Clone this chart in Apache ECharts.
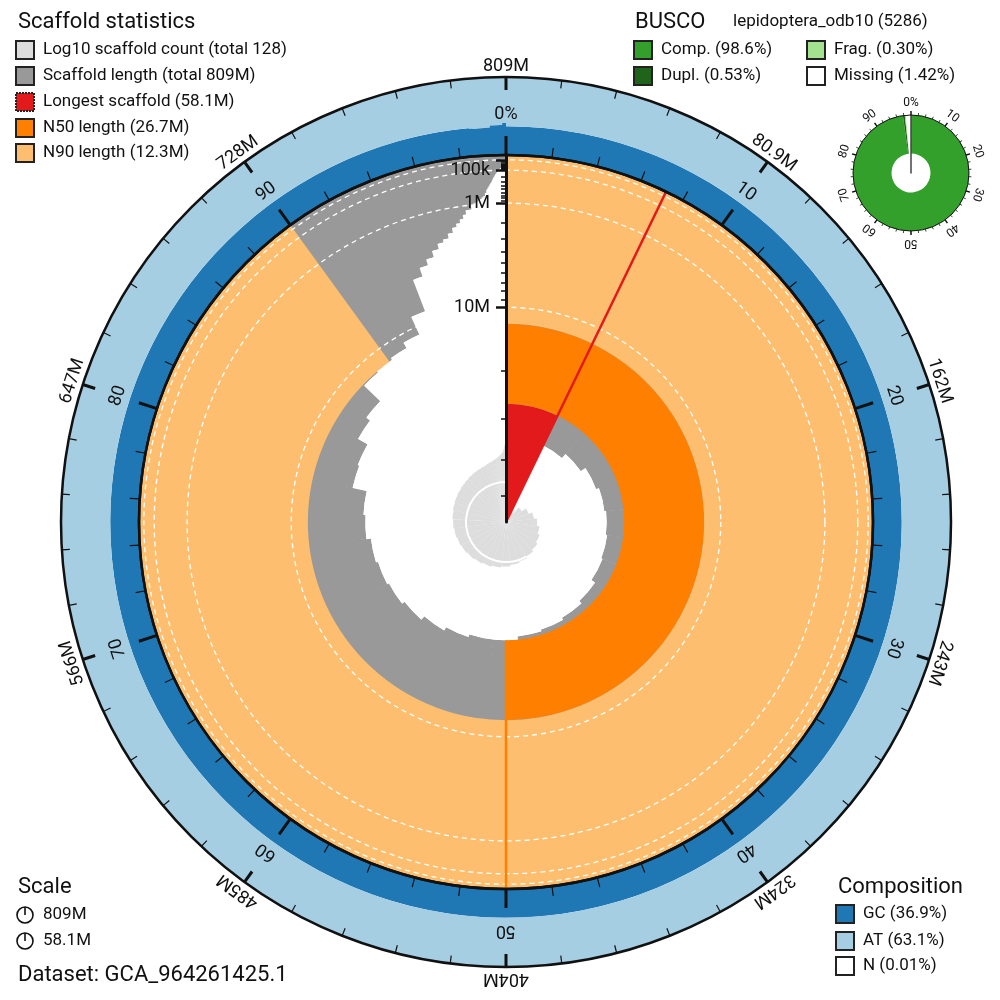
<!DOCTYPE html>
<html>
<head>
<meta charset="utf-8">
<title>Snail plot</title>
<script src="https://cdn.jsdelivr.net/npm/echarts@6/dist/echarts.min.js"></script>
<style>
  html, body { margin: 0; background: #fff; }
  #chart { width: 1000px; height: 1000px; }
</style>
</head>
<body>
<div id="chart"></div>
<script>
// scaffold lengths in Mb, longest first
var scaffoldLengths = [
  58.1, 34.3, 33.0, 31.7, 31.0, 30.6, 30.3, 30.0, 29.0, 28.3,
  27.8, 27.4, 26.7, 26.7, 26.1, 25.3, 24.4, 23.8, 23.4, 23.0,
  22.1, 21.7, 19.0, 18.7, 16.8, 16.0, 12.5, 12.3, 12.0, 11.1,
  8.6, 5.0, 4.2, 3.7, 3.2, 2.8, 2.6, 2.3, 2.0, 1.8,
  1.6, 1.4, 1.2, 1.2, 1.0, 0.95, 0.9, 0.85, 0.8, 0.75,
  0.7, 0.6, 0.5, 0.45, 0.4, 0.36, 0.33, 0.3, 0.27, 0.24,
  0.22, 0.2, 0.19, 0.17, 0.16, 0.15, 0.14, 0.135, 0.13, 0.125,
  0.12, 0.115, 0.11, 0.105, 0.097, 0.094, 0.091, 0.088, 0.085, 0.082,
  0.080, 0.078, 0.076, 0.074, 0.072, 0.070, 0.068, 0.066, 0.064, 0.062,
  0.060, 0.058, 0.056, 0.055, 0.054, 0.053, 0.052, 0.051, 0.050, 0.049,
  0.048, 0.047, 0.046, 0.045, 0.044, 0.043, 0.042, 0.041, 0.040, 0.039,
  0.038, 0.037, 0.036, 0.035, 0.034, 0.033, 0.032, 0.031, 0.030, 0.029,
  0.028, 0.027, 0.026, 0.025, 0.024, 0.023, 0.022, 0.021
];

// radial length axis (Mb)
var lengthTickLabels = ['100k', '1M', '10M'];
var lengthLabelValues = [0.1, 1, 10];
var lengthMajorTicks = [0.01, 0.1, 1, 10];
var lengthMinorTicks = [0.02, 0.03, 0.04, 0.05, 0.06, 0.07, 0.08, 0.09,
  0.2, 0.3, 0.4, 0.5, 0.6, 0.7, 0.8, 0.9, 2, 3, 4, 5, 6, 7, 8, 9, 20, 30, 40, 50];
var lengthGridLines = [0.01, 0.1, 1, 10];
var percentTicks = [0, 10, 20, 30, 40, 50, 60, 70, 80, 90];
var countScaleLines = [10, 100];

// base composition along the assembly (start %, GC %)
var gcStart = [0, 98.5, 99.2, 99.7];
var gcPercent = [36.9, 35.5, 38.5, 41.0];
var nPercent = 0.01;

var buscoNames = ['Comp.', 'Dupl.', 'Frag.', 'Missing'];
var buscoValues = [98.6, 0.53, 0.30, 1.42];
var buscoLineage = 'lepidoptera_odb10';
var buscoTotal = 5286;
var datasetName = 'GCA_964261425.1';

var chart = echarts.init(document.getElementById('chart'));

var CX = 506, CY = 522, R_IN = 367, R_OUT = 445;
var FONT = 'Roboto, "Noto Sans", sans-serif';
var INK = '#111';

var totalLength = scaffoldLengths.reduce(function (a, b) { return a + b; }, 0);
var starts = [], ends = [], acc = 0;
scaffoldLengths.forEach(function (l) {
  starts.push(acc / totalLength * 100);
  acc += l;
  ends.push(acc / totalLength * 100);
});
function nx(frac) {
  var c = 0;
  for (var i = 0; i < scaffoldLengths.length; i++) {
    c += scaffoldLengths[i];
    if (c >= totalLength * frac) return scaffoldLengths[i];
  }
}
var longest = scaffoldLengths[0], n50 = nx(0.5), n90 = nx(0.9);
var sq = Math.sqrt, sqMax = sq(longest);
var longestPct = longest / totalLength * 100;

function fmtMb(v) { return Number(v.toPrecision(3)) + 'M'; }

// small overlap between neighbouring wedges hides anti-alias seams
var OV = 0.06;
var grayRows = scaffoldLengths.map(function (l, i) { return [starts[i], Math.min(ends[i] + OV, 100), sq(l), 0]; });
var maskRows = scaffoldLengths.map(function (l, i) { return [starts[i], Math.min(ends[i] + OV, 100), sqMax, sq(l)]; });
var countRows = scaffoldLengths.map(function (l, i) { return [starts[i], Math.min(ends[i] + OV, 100), 0, Math.log10(i + 1)]; });
var countArcRows = countScaleLines.filter(function (c) { return c < scaffoldLengths.length; })
  .map(function (c) { return [starts[c], 100, Math.log10(c)]; });

var gcRows = [], atRows = [], nRows = [];
gcStart.forEach(function (s, i) {
  var e = i + 1 < gcStart.length ? gcStart[i + 1] + 0.15 : 100;
  gcRows.push([s, e, 0, gcPercent[i]]);
  atRows.push([s, e, gcPercent[i], 100 - nPercent]);
  nRows.push([s, e, 100 - nPercent, 100]);
});

var buscoDrawn = [buscoValues[0] - buscoValues[1], buscoValues[1], buscoValues[2], buscoValues[3]];
var buscoSum = buscoDrawn.reduce(function (a, b) { return a + b; }, 0);
var buscoColors = ['#33a02c', '#20641c', '#a3e28f', '#ffffff'];
var buscoRows = [], bacc = 0;
buscoDrawn.forEach(function (v) {
  buscoRows.push([bacc / buscoSum * 100, (bacc + v) / buscoSum * 100, 19.5, 58]);
  bacc += v;
});

function sectorSeries(polarIndex, rows, refVal, colorFn, z) {
  return {
    type: 'custom', coordinateSystem: 'polar', polarIndex: polarIndex,
    silent: true, z: z || 2, data: rows,
    renderItem: function (params, api) {
      var cs = params.coordSys, cx = cs.cx, cy = cs.cy;
      var a0 = api.value(0), a1 = api.value(1);
      var pa = api.coord([api.value(2), a0]), pb = api.coord([api.value(3), a0]);
      var ra = Math.hypot(pa[0] - cx, pa[1] - cy), rb = Math.hypot(pb[0] - cx, pb[1] - cy);
      var q0 = api.coord([refVal, a0]), q1 = api.coord([refVal, a1]);
      var s = Math.atan2(q0[1] - cy, q0[0] - cx), e = Math.atan2(q1[1] - cy, q1[0] - cx);
      if (e <= s + 1e-9) e += Math.PI * 2;
      return {
        type: 'sector',
        shape: { cx: cx, cy: cy, r0: Math.min(ra, rb), r: Math.max(ra, rb), startAngle: s, endAngle: e, clockwise: true },
        style: { fill: colorFn(params.dataIndex) }
      };
    }
  };
}
function solid(c) { return function () { return c; }; }

function lineSeries(rows, color) {
  return {
    type: 'custom', coordinateSystem: 'polar', polarIndex: 0, silent: true, z: 3, data: rows,
    renderItem: function (params, api) {
      var p = api.coord([api.value(0), api.value(2)]), q = api.coord([api.value(1), api.value(2)]);
      return { type: 'line', shape: { x1: p[0], y1: p[1], x2: q[0], y2: q[1] }, style: { stroke: color, lineWidth: 2.5 } };
    }
  };
}

function labelSeries(polarIndex, rows, textFn, fontSize) {
  return {
    type: 'custom', coordinateSystem: 'polar', polarIndex: polarIndex, silent: true, z: 5, data: rows,
    renderItem: function (params, api) {
      var p = api.coord([api.value(0), api.value(1)]);
      return {
        type: 'text', x: p[0], y: p[1], rotation: -api.value(1) / 100 * Math.PI * 2,
        style: {
          text: textFn(params.dataIndex), fill: INK, font: fontSize + 'px ' + FONT,
          align: 'center', verticalAlign: 'middle', textAlign: 'center', textVerticalAlign: 'middle'
        }
      };
    }
  };
}

var hiddenAngle = function (i) { return { polarIndex: i, type: 'value', min: 0, max: 100, startAngle: 90, show: false }; };

var series = [
  // composition ring
  sectorSeries(1, gcRows, 100, solid('#1f78b4'), 1),
  sectorSeries(1, atRows, 100, solid('#a6cee3'), 1),
  sectorSeries(1, nRows, 100, solid('#ffffff'), 1),
  // scaffold lengths and stats
  sectorSeries(0, grayRows, 0, solid('#999999')),
  sectorSeries(0, [[0, longestPct, sqMax, sq(n50)]], 0, solid('#e31a1c')),
  sectorSeries(0, [[0, 50, sq(n50), sq(n90)]], 0, solid('#ff7f00')),
  sectorSeries(0, [[0, 90, sq(n90), 0]], 0, solid('#fdbf6f')),
  {
    type: 'custom', coordinateSystem: 'polar', polarIndex: 0, silent: true, z: 2,
    data: lengthGridLines.map(function (v) { return [sq(v)]; }),
    renderItem: function (params, api) {
      var cs = params.coordSys, p = api.coord([api.value(0), 0]);
      return {
        type: 'circle', shape: { cx: cs.cx, cy: cs.cy, r: Math.hypot(p[0] - cs.cx, p[1] - cs.cy) },
        style: { fill: null, stroke: '#ffffff', lineWidth: 1.3, lineDash: [5, 4] }
      };
    }
  },
  sectorSeries(0, maskRows, 0, solid('#ffffff')),
  // cumulative count spiral
  sectorSeries(2, countRows, 9.175, solid('#dddddd')),
  {
    type: 'custom', coordinateSystem: 'polar', polarIndex: 2, silent: true, z: 2, data: countArcRows,
    renderItem: function (params, api) {
      var cs = params.coordSys, cx = cs.cx, cy = cs.cy;
      var p = api.coord([api.value(2), 0]);
      var q0 = api.coord([9.175, api.value(0)]), q1 = api.coord([9.175, api.value(1)]);
      var s = Math.atan2(q0[1] - cy, q0[0] - cx), e = Math.atan2(q1[1] - cy, q1[0] - cx);
      if (e <= s + 1e-9) e += Math.PI * 2;
      return {
        type: 'arc', shape: { cx: cx, cy: cy, r: Math.hypot(p[0] - cx, p[1] - cy), startAngle: s, endAngle: e, clockwise: true },
        style: { fill: null, stroke: '#ffffff', lineWidth: 2 }
      };
    }
  },
  lineSeries([[sqMax, 0, longestPct]], '#e31a1c'),
  lineSeries([[sq(n50), 0, 50]], '#ff7f00'),
  // ring labels
  labelSeries(5, percentTicks.map(function (p) { return [408, p]; }), function (i) {
    return percentTicks[i] === 0 ? '0%' : String(percentTicks[i]);
  }, 18),
  labelSeries(5, percentTicks.map(function (p) { return [456, p]; }), function (i) {
    return fmtMb(totalLength * (percentTicks[i] === 0 ? 100 : percentTicks[i]) / 100);
  }, 18),
  // BUSCO donut
  sectorSeries(3, buscoRows, 58, function (i) { return buscoColors[i]; }),
  labelSeries(3, percentTicks.map(function (p) { return [70, p]; }), function (i) {
    return percentTicks[i] === 0 ? '0%' : String(percentTicks[i]);
  }, 12)
];

function sw(x, y, color, label, dash) {
  return [
    { type: 'rect', shape: { x: x, y: y - 9, width: 18, height: 18 },
      style: { fill: color, stroke: '#222', lineWidth: 2, lineDash: dash || null } },
    { type: 'text', x: x + 27, y: y, style: { text: label, font: '17px ' + FONT, fill: INK, verticalAlign: 'middle' } }
  ];
}
function title(x, y, text, size) {
  return { type: 'text', x: x, y: y, style: { text: text, font: (size || 22) + 'px ' + FONT, fill: INK, verticalAlign: 'middle' } };
}
function clockIcon(cx, cy) {
  return [
    { type: 'circle', shape: { cx: cx, cy: cy, r: 8 }, style: { fill: null, stroke: INK, lineWidth: 1.6 } },
    { type: 'line', shape: { x1: cx, y1: cy, x2: cx, y2: cy - 8 }, style: { stroke: INK, lineWidth: 1.6 } }
  ];
}

var graphics = [].concat(
  [title(18, 22, 'Scaffold statistics')],
  sw(16, 50, '#dddddd', 'Log10 scaffold count (total ' + scaffoldLengths.length + ')'),
  sw(16, 76, '#999999', 'Scaffold length (total ' + fmtMb(totalLength) + ')'),
  sw(16, 102, '#e31a1c', 'Longest scaffold (' + fmtMb(longest) + ')', [2, 1]),
  sw(16, 128, '#ff7f00', 'N50 length (' + fmtMb(n50) + ')'),
  sw(16, 153, '#fdbf6f', 'N90 length (' + fmtMb(n90) + ')'),
  [title(635, 22, 'BUSCO'), title(733, 22, buscoLineage + ' (' + buscoTotal + ')', 17)],
  sw(634, 50, buscoColors[0], buscoNames[0] + ' (' + buscoValues[0].toFixed(1) + '%)'),
  sw(634, 76, buscoColors[1], buscoNames[1] + ' (' + buscoValues[1].toFixed(2) + '%)'),
  sw(807, 50, buscoColors[2], buscoNames[2] + ' (' + buscoValues[2].toFixed(2) + '%)'),
  sw(807, 76, buscoColors[3], buscoNames[3] + ' (' + buscoValues[3].toFixed(2) + '%)'),
  [title(18, 887, 'Scale')],
  clockIcon(25, 915), clockIcon(25, 941),
  [title(43, 915, fmtMb(totalLength), 17), title(43, 941, fmtMb(longest), 17)],
  [title(18, 975, 'Dataset: ' + datasetName)],
  [title(838, 887, 'Composition')],
  sw(836, 914, '#1f78b4', 'GC (' + gcPercent[0].toFixed(1) + '%)'),
  sw(836, 941, '#a6cee3', 'AT (' + (100 - gcPercent[0]).toFixed(1) + '%)'),
  sw(836, 966, '#ffffff', 'N (' + nPercent.toFixed(2) + '%)')
);

var option = {
  animation: false,
  backgroundColor: '#ffffff',
  textStyle: { fontFamily: FONT },
  polar: [
    { center: [CX, CY], radius: [0, R_IN] },
    { center: [CX, CY], radius: [R_IN, R_OUT] },
    { center: [CX, CY], radius: [0, R_IN] },
    { center: [911, 173], radius: [0, 58] },
    { center: [CX, CY], radius: [0, R_IN] },
    { center: [CX, CY], radius: [0, 500] }
  ],
  angleAxis: [
    {
      polarIndex: 0, type: 'value', min: 0, max: 100, interval: 10, startAngle: 90, z: 10,
      axisLine: { lineStyle: { color: INK, width: 2.5 } },
      axisTick: { length: 19, lineStyle: { color: INK, width: 3 } },
      minorTick: { show: true, splitNumber: 5, length: 10, lineStyle: { color: INK, width: 1.2 } },
      axisLabel: { show: false }, splitLine: { show: false }
    },
    {
      polarIndex: 1, type: 'value', min: 0, max: 100, interval: 10, startAngle: 90, z: 10,
      axisLine: { lineStyle: { color: INK, width: 2.5 } },
      axisTick: { inside: true, length: 13, lineStyle: { color: INK, width: 3 } },
      minorTick: { show: true, splitNumber: 5, length: 8, lineStyle: { color: INK, width: 1.2 } },
      axisLabel: { show: false }, splitLine: { show: false }
    },
    hiddenAngle(2),
    {
      polarIndex: 3, type: 'value', min: 0, max: 100, interval: 10, startAngle: 90, z: 10,
      axisLine: { lineStyle: { color: INK, width: 1 } },
      axisTick: { length: 4, lineStyle: { color: INK, width: 1.5 } },
      minorTick: { show: true, splitNumber: 5, length: 2.5, lineStyle: { color: INK, width: 0.8 } },
      axisLabel: { show: false }, splitLine: { show: false }
    },
    hiddenAngle(4),
    hiddenAngle(5)
  ],
  radiusAxis: [
    {
      polarIndex: 0, type: 'value', min: 0, max: sqMax, inverse: true, z: 10,
      axisLine: { lineStyle: { color: INK, width: 3 } },
      axisTick: { customValues: lengthMinorTicks.map(sq), length: 5, lineStyle: { color: INK, width: 1.5 } },
      axisLabel: { show: false }, splitLine: { show: false }
    },
    { polarIndex: 1, type: 'value', min: 0, max: 100, show: false },
    { polarIndex: 2, type: 'value', min: 0, max: 9.175, show: false },
    {
      polarIndex: 3, type: 'value', min: 0, max: 58, z: 10,
      axisLine: { lineStyle: { color: '#444', width: 1.5 } },
      axisTick: { show: false }, axisLabel: { show: false }, splitLine: { show: false }
    },
    {
      polarIndex: 4, type: 'value', min: 0, max: sqMax, inverse: true, z: 10,
      axisLine: { show: false },
      axisTick: { customValues: lengthMajorTicks.map(sq), length: 10, lineStyle: { color: INK, width: 2.5 } },
      axisLabel: {
        customValues: lengthLabelValues.map(sq), margin: 16, color: INK, fontSize: 18, fontFamily: FONT,
        formatter: function (v) {
          for (var i = 0; i < lengthLabelValues.length; i++) {
            if (Math.abs(sq(lengthLabelValues[i]) - v) < 1e-6) return lengthTickLabels[i];
          }
          return '';
        }
      },
      splitLine: { show: false }
    },
    { polarIndex: 5, type: 'value', min: 0, max: 500, show: false }
  ],
  series: series,
  graphic: { elements: graphics }
};

chart.setOption(option);
</script>
</body>
</html>
